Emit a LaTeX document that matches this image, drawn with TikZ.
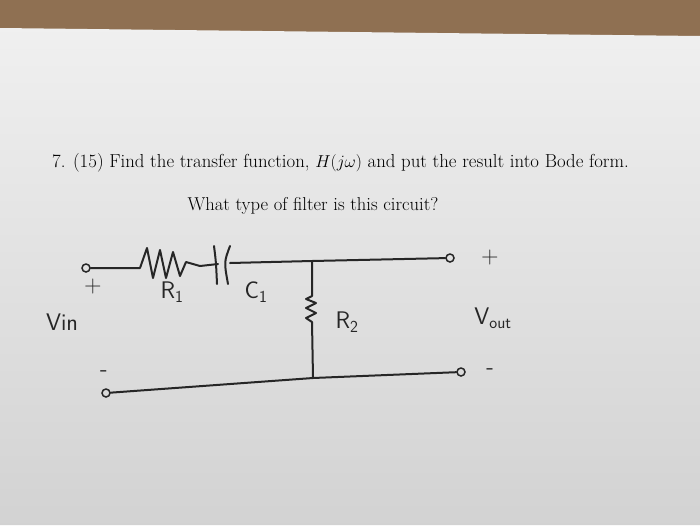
\documentclass[tikz,border=0pt]{standalone}
\usepackage{fontspec}
\tikzset{wire/.style={line width=2pt,color=black!85,line cap=round,line join=round},
hand/.style={font=\sffamily\fontsize{24}{26}\selectfont,color=black!85},
term/.style={circle,draw=black!85,line width=1.5pt,inner sep=0pt,minimum size=8pt}}
\begin{document}
\begin{tikzpicture}[x=1pt,y=-1pt]
\useasboundingbox (0,0) rectangle (700,525);
\fill[brown!60!black!80] (0,0) rectangle (700,40);
\shade[top color=gray!12,bottom color=gray!35] (0,28) -- (700,36) -- (700,525) -- (0,525) -- cycle;
\node[anchor=west,font=\fontsize{18.8}{21}\selectfont,inner sep=0pt] (t1) at (52,163) {7. (15) Find the transfer function, $H(j\omega)$ and put the result into Bode form.};
\node[font=\fontsize{18.6}{21}\selectfont] (t2) at (313,206) {What type of filter is this circuit?};
% terminals
\node[term] (a) at (86,268) {};
\node[term] (b) at (450,258) {};
\node[term] (c) at (106,393) {};
\node[term] (d) at (461,372) {};
\coordinate (r1s) at (140,268);
\coordinate (r1e) at (200,266);
\coordinate (c1l) at (218,264);
\coordinate (c1r) at (230,263);
\coordinate (j) at (312,261);
\coordinate (jb) at (313,378);
\draw[wire] (a) -- (r1s) -- (147,248) -- (153,278) -- (160,250) -- (166,278) -- (173,252) -- (180,276) -- (186,262) -- (r1e) -- (c1l);
\draw[wire] (214,246) .. controls (216,262) .. (217,284);
\draw[wire] (230,246) .. controls (224,262) .. (228,284);
\draw[wire] (c1r) -- (j) -- (b);
\draw[wire] (j) -- (312,296) -- (306,299) -- (316,303) -- (306,308) -- (316,313) -- (306,318) -- (312,322) -- (jb);
\draw[wire] (c) -- (jb) -- (d);
\node[hand] (p1) at (93,287) {+};
\node[hand] (m1) at (104,374) {-};
\node[hand] (p2) at (490,258) {+};
\node[hand] (m2) at (490,372) {-};
\node[hand] (lr1) at (172,292) {R\textsubscript{1}};
\node[hand] (lc1) at (256,292) {C\textsubscript{1}};
\node[hand] (lr2) at (347,322) {R\textsubscript{2}};
\node[hand] (lvin) at (62,322) {Vin};
\node[hand] (lvout) at (493,318) {V\textsubscript{out}};
\end{tikzpicture}
\end{document}
